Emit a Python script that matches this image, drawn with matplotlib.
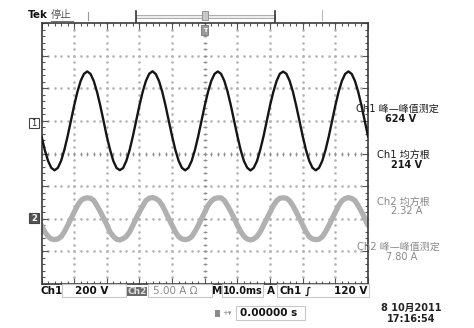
import matplotlib.pyplot as plt
from matplotlib.patches import Rectangle

# time axis in ms (10 ms/div, trigger at centre of screen)
t_ms = list(range(-50, 51))

# Ch1 voltage (V), one sample per ms
ch1_volts = [
    -94, -178, -245, -288, -303, -288, -245, -178, -94, 0,
    94, 178, 245, 288, 303, 288, 245, 178, 94, 0,
    -95, -177, -246, -289, -302, -289, -244, -178, -93, 1,
    95, 179, 246, 289, 304, 287, 244, 177, 93, -1,
    -94, -178, -245, -288, -303, -288, -245, -178, -94, 0,
    94, 178, 245, 288, 303, 288, 245, 178, 94, 0,
    -93, -179, -246, -287, -304, -288, -246, -177, -95, 0,
    95, 177, 244, 289, 302, 289, 245, 179, 94, 1,
    -94, -178, -245, -288, -303, -288, -245, -178, -94, 0,
    94, 178, 245, 288, 303, 288, 245, 178, 94, 0,
    -94,
]

# Ch2 current (A)
ch2_amps = [
    -1.0, -2.0, -2.7, -3.1, -3.2, -3.1, -2.75, -2.0, -1.05, 0.0,
    1.0, 2.0, 2.75, 3.1, 3.2, 3.15, 2.8, 2.0, 1.1, 0.1,
    -0.9, -2.05, -2.7, -3.15, -3.25, -3.05, -2.7, -2.0, -1.0, 0.05,
    1.05, 1.95, 2.8, 3.15, 3.25, 3.1, 2.75, 2.05, 1.05, 0.0,
    -1.0, -2.0, -2.75, -3.1, -3.2, -3.1, -2.75, -1.95, -1.05, 0.0,
    1.0, 2.05, 2.7, 3.1, 3.2, 3.2, 2.8, 2.0, 1.1, 0.1,
    -1.0, -1.95, -2.7, -3.1, -3.25, -3.1, -2.7, -2.0, -1.0, 0.0,
    1.0, 2.0, 2.75, 3.15, 3.2, 3.15, 2.75, 2.0, 1.05, 0.05,
    -0.95, -2.0, -2.75, -3.1, -3.2, -3.15, -2.75, -2.0, -1.05, 0.0,
    1.0, 2.0, 2.75, 3.1, 3.25, 3.1, 2.8, 2.0, 1.1, 0.1,
    -1.0,
]

ch1_scale = 200.0   # V/div
ch2_scale = 5.0     # A/div
ch1_ground = 1.0    # div from centre
ch2_ground = -2.0

meas_labels = ["Ch1 峰—峰值测定", "Ch1 均方根", "Ch2 均方根", "Ch2 峰—峰值测定"]
meas_values = ["624 V", "214 V", "2.32 A", "7.80 A"]

W, H = 474, 328
CJK = ["DejaVu Sans", "Noto Sans CJK SC"]
plt.rcParams["font.family"] = CJK

fig = plt.figure(figsize=(W / 100, H / 100), dpi=100)
fig.patch.set_facecolor("white")

# graticule area in pixels
gx0, gx1, gy0, gy1 = 41.5, 368, 23, 284
ax = fig.add_axes([gx0 / W, 1 - gy1 / H, (gx1 - gx0) / W, (gy1 - gy0) / H])
ax.set_xlim(-50, 50)
ax.set_ylim(-4, 4)

grid_c = "#b4b4b4"
# dotted graticule
for gx in range(-40, 50, 10):
    ys = [y / 5 for y in range(-20, 21)]
    ax.plot([gx] * len(ys), ys, ls="none", marker="s", ms=0.8, color=grid_c, zorder=1)
for gy in range(-3, 4):
    xs = [x * 2 for x in range(-25, 26)]
    ax.plot(xs, [gy] * len(xs), ls="none", marker="s", ms=0.8, color=grid_c, zorder=1)
# centre crosshair ticks
xs = [x * 2 for x in range(-25, 26)]
ys = [y / 5 for y in range(-20, 21)]
ax.plot(xs, [0] * len(xs), ls="none", marker="|", ms=3, mew=0.6, color="#8a8a8a", zorder=1)
ax.plot([0] * len(ys), ys, ls="none", marker="_", ms=3, mew=0.6, color="#8a8a8a", zorder=1)

# traces
ax.plot(t_ms, [v / ch2_scale + ch2_ground for v in ch2_amps], color="#b0b0b0", lw=3.8,
        solid_capstyle="round", zorder=2)
ax.plot(t_ms, [v / ch1_scale + ch1_ground for v in ch1_volts], color="#151515", lw=1.7, zorder=3)

ax.set_xticks(range(-50, 51, 10))
ax.set_xticks(range(-50, 51, 2), minor=True)
ax.set_yticks(range(-4, 5))
ax.set_yticks([y / 5 for y in range(-20, 21)], minor=True)
ax.tick_params(which="both", direction="in", top=True, right=True, labelbottom=False,
               labelleft=False, color="#555555", width=0.8)
ax.tick_params(which="major", length=4)
ax.tick_params(which="minor", length=2.5)
for s in ax.spines.values():
    s.set_color("#3a3a3a")
    s.set_linewidth(1.2)
ax.set_facecolor("none")

# overlay in pixel coordinates for the screen furniture
ov = fig.add_axes([0, 0, 1, 1], zorder=5)
ov.set_xlim(0, W)
ov.set_ylim(H, 0)
ov.axis("off")
ov.patch.set_alpha(0)

# top status line
ov.text(28, 15, "Tek", fontsize=7.5, fontweight="bold", va="center", color="#111111")
ov.text(51, 15, "停止", fontsize=7.5, va="center", color="#555555", family=CJK)
ov.plot([51, 73], [21, 21], color="#777777", lw=0.8)
ov.plot([88, 88], [12, 20], color="#999999", lw=0.8)
ov.plot([136, 136], [11, 22], color="#333333", lw=1.2)
ov.plot([275, 275], [11, 22], color="#333333", lw=1.2)
ov.add_patch(Rectangle((136, 14.5), 139, 3.5, facecolor="#ececec", edgecolor="#aaaaaa", lw=0.7))
ov.plot([322, 322], [10, 20], color="#bbbbbb", lw=0.8)
ov.add_patch(Rectangle((202, 11), 6, 9, facecolor="#c8c8c8", edgecolor="#888888", lw=0.6))
ov.add_patch(Rectangle((201.5, 25), 7, 10, facecolor="#9a9a9a", edgecolor="#777777", lw=0.6))
ov.text(205, 30, "T", fontsize=4.5, color="white", ha="center", va="center", fontweight="bold")

# channel ground markers
ov.add_patch(Rectangle((29, 118), 10, 10, facecolor="white", edgecolor="#444444", lw=0.8))
ov.text(34, 123.3, "1", fontsize=6, ha="center", va="center", color="#222222")
ov.add_patch(Rectangle((29, 213), 10, 10, facecolor="#555555", edgecolor="#444444", lw=0.8))
ov.text(34, 218.3, "2", fontsize=6, ha="center", va="center", color="white", fontweight="bold")

# measurements on the right
meas_y = [109, 155, 202, 247]
meas_col = ["#1a1a1a", "#1a1a1a", "#888888", "#888888"]
meas_x = [397, 403, 403, 398]
for lab, val, y, c, x in zip(meas_labels, meas_values, meas_y, meas_col, meas_x):
    ov.text(x, y, lab, fontsize=7.2, ha="center", va="center", color=c, family=CJK)
    ov.text(x + 4, y + 9.5, val, fontsize=7, ha="center", va="center", color=c,
            fontweight="bold" if c == "#1a1a1a" else "normal")

# bottom status row
by = 291
box_c = "#c8c8c8"
ov.text(41, by, "Ch1", fontsize=7.5, fontweight="bold", va="center", color="#111111")
ov.add_patch(Rectangle((62, 284), 64, 13, facecolor="none", edgecolor=box_c, lw=0.8))
ov.text(75, by, "200 V", fontsize=7.5, fontweight="bold", va="center", color="#111111")
ov.add_patch(Rectangle((127, 286.5), 20, 9, facecolor="#6a6a6a", edgecolor="none"))
ov.text(137, by, "Ch2", fontsize=6.5, fontweight="bold", ha="center", va="center", color="#dddddd")
ov.add_patch(Rectangle((148, 284), 64, 13, facecolor="none", edgecolor=box_c, lw=0.8))
ov.text(153, by, "5.00 A Ω", fontsize=7.5, va="center", color="#888888")
ov.text(212, by, "M", fontsize=7.5, fontweight="bold", va="center", color="#111111")
ov.add_patch(Rectangle((222, 284), 41, 13, facecolor="none", edgecolor=box_c, lw=0.8))
ov.text(223, by, "10.0ms", fontsize=7, fontweight="bold", va="center", color="#111111")
ov.text(266.5, by, "A", fontsize=7.5, fontweight="bold", va="center", color="#111111")
ov.add_patch(Rectangle((277, 284), 92, 13, facecolor="none", edgecolor=box_c, lw=0.8))
ov.text(280, by, "Ch1", fontsize=7.5, fontweight="bold", va="center", color="#111111")
ov.text(305, by, "∫", fontsize=7.5, fontweight="bold", va="center", color="#111111")
ov.text(367, by, "120 V", fontsize=7.5, fontweight="bold", ha="right", va="center", color="#111111")

# trigger position row
ov.add_patch(Rectangle((215, 309.5), 5, 7, facecolor="#8a8a8a", edgecolor="none"))
ov.text(222, 313, "+▾", fontsize=5, va="center", color="#888888")
ov.add_patch(Rectangle((236, 306), 69, 14, facecolor="none", edgecolor=box_c, lw=0.8))
ov.text(240, 313, "0.00000 s", fontsize=7.5, fontweight="bold", va="center", color="#111111")

# date and time
ov.text(411, 308, "8 10月2011", fontsize=7, ha="center", va="center", color="#222222",
        family=CJK, fontweight="bold")
ov.text(411, 318.5, "17:16:54", fontsize=7, ha="center", va="center", color="#222222",
        fontweight="bold")

fig.savefig("out.png", dpi=100, facecolor="white")
